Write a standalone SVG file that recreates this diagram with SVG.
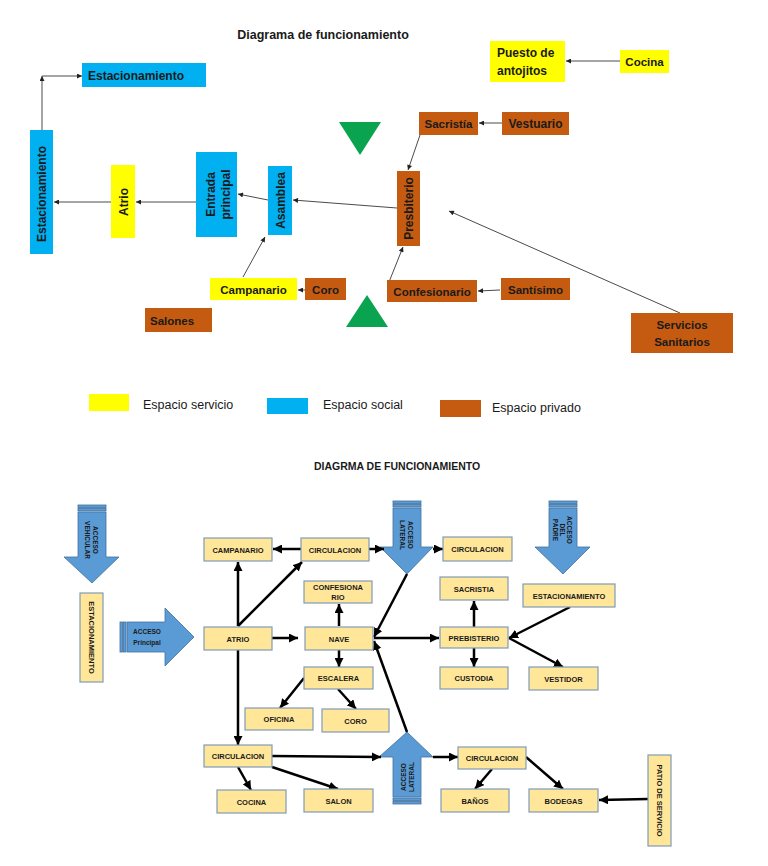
<svg xmlns="http://www.w3.org/2000/svg" width="768" height="866" viewBox="0 0 768 866">
<defs>
<style>
.t{font-family:"Liberation Sans",Arial,sans-serif;fill:#1a1a1a}
.tb{font-family:"Liberation Sans",Arial,sans-serif;font-weight:bold;fill:#1a1a1a}
.blue{fill:#00b0f0}
.yel{fill:#ffff00}
.brn{fill:#c55a11}
.grn{fill:#0aa34f}
.c1{stroke:#4a4a4a;stroke-width:1;fill:none;marker-end:url(#as)}
.c2{stroke:#000;stroke-width:2.5;fill:none;marker-end:url(#ab)}
.bx{fill:#ffe699;stroke:#7f9cb8;stroke-width:1.2}
.bt{font-family:"Liberation Sans",Arial,sans-serif;font-weight:bold;font-size:7.5px;fill:#1a1a1a;text-anchor:middle}
.ar{fill:#5b9bd5;stroke:#41719c;stroke-width:0.8}
.at{font-family:"Liberation Sans",Arial,sans-serif;font-weight:bold;font-size:6.5px;fill:#1a1a1a;text-anchor:middle}
</style>
<marker id="as" viewBox="0 0 10 10" refX="10" refY="5" markerWidth="6" markerHeight="5" markerUnits="userSpaceOnUse" orient="auto"><path d="M0,0 L10,5 L0,10 z" fill="#222"/></marker>
<marker id="ab" viewBox="0 0 10 10" refX="10" refY="5" markerWidth="9" markerHeight="9" markerUnits="userSpaceOnUse" orient="auto"><path d="M0,0 L10,5 L0,10 z" fill="#000"/></marker>
</defs>
<rect width="768" height="866" fill="#fff"/>

<!-- ===== TOP DIAGRAM ===== -->
<text class="tb" x="323" y="39" font-size="12.5" text-anchor="middle">Diagrama de funcionamiento</text>

<g id="top-connectors">
<line class="c1" x1="42" y1="130" x2="42" y2="76"/>
<line class="c1" x1="42" y1="76" x2="82" y2="76"/>
<line class="c1" x1="111" y1="202" x2="54" y2="202"/>
<line class="c1" x1="196" y1="202" x2="136" y2="202"/>
<line class="c1" x1="268" y1="200" x2="238" y2="194"/>
<line class="c1" x1="397" y1="208" x2="293" y2="200"/>
<line class="c1" x1="420" y1="135" x2="408" y2="170"/>
<line class="c1" x1="502" y1="123" x2="479" y2="123"/>
<line class="c1" x1="620" y1="61" x2="566" y2="61"/>
<line class="c1" x1="680" y1="313" x2="449" y2="211"/>
<line class="c1" x1="243" y1="277" x2="265" y2="237"/>
<line class="c1" x1="305" y1="290" x2="298" y2="290"/>
<line class="c1" x1="389" y1="282" x2="403" y2="247"/>
<line class="c1" x1="500" y1="290" x2="478" y2="291"/>
</g>

<g id="t-estacionamiento-h"><rect class="blue" x="82" y="63" width="124" height="24"/><text class="tb" x="88" y="80" font-size="12">Estacionamiento</text></g>
<g id="t-estacionamiento-v"><rect class="blue" x="30" y="130" width="23" height="124"/><text class="tb" font-size="12" text-anchor="middle" transform="translate(46,194) rotate(-90)">Estacionamiento</text></g>
<g id="t-atrio"><rect class="yel" x="111" y="165" width="24" height="73"/><text class="tb" font-size="12" text-anchor="middle" transform="translate(127.5,202) rotate(-90)">Atrio</text></g>
<g id="t-entrada"><rect class="blue" x="196" y="152" width="41" height="85"/><text class="tb" font-size="12" text-anchor="middle" transform="translate(216.5,194.5) rotate(-90)"><tspan x="0" y="-2">Entrada</tspan><tspan x="0" y="13">principal</tspan></text></g>
<g id="t-asamblea"><rect class="blue" x="268" y="166" width="24" height="69"/><text class="tb" font-size="12" text-anchor="middle" transform="translate(284.5,200.5) rotate(-90)">Asamblea</text></g>
<g id="t-presbiterio"><rect class="brn" x="397" y="171" width="23" height="75"/><text class="tb" font-size="12" text-anchor="middle" transform="translate(413,208.5) rotate(-90)">Presbiterio</text></g>
<g id="t-sacristia"><rect class="brn" x="419" y="112" width="59" height="23"/><text class="tb" x="448.5" y="128" font-size="11.5" text-anchor="middle">Sacristía</text></g>
<g id="t-vestuario"><rect class="brn" x="502" y="112" width="67" height="23"/><text class="tb" x="535.5" y="128" font-size="12" text-anchor="middle">Vestuario</text></g>
<g id="t-puesto"><rect class="yel" x="490" y="41" width="75" height="41"/><text class="tb" font-size="12"><tspan x="497" y="57">Puesto de</tspan><tspan x="497" y="75">antojitos</tspan></text></g>
<g id="t-cocina"><rect class="yel" x="620" y="50" width="49" height="23"/><text class="tb" x="644.5" y="66" font-size="11.5" text-anchor="middle">Cocina</text></g>
<g id="t-campanario"><rect class="yel" x="210" y="278" width="87" height="22"/><text class="tb" x="253.5" y="294" font-size="11.5" text-anchor="middle">Campanario</text></g>
<g id="t-coro"><rect class="brn" x="305" y="278" width="41" height="22"/><text class="tb" x="325.5" y="294" font-size="11.5" text-anchor="middle">Coro</text></g>
<g id="t-confesionario"><rect class="brn" x="387" y="280" width="90" height="22"/><text class="tb" x="432" y="296" font-size="11.5" text-anchor="middle">Confesionario</text></g>
<g id="t-santisimo"><rect class="brn" x="501" y="278" width="69" height="22"/><text class="tb" x="535.5" y="294" font-size="11.5" text-anchor="middle">Santísimo</text></g>
<g id="t-salones"><rect class="brn" x="145" y="308" width="67" height="24"/><text class="tb" x="150" y="325" font-size="11.5">Salones</text></g>
<g id="t-servicios"><rect class="brn" x="631" y="313" width="102" height="40"/><text class="tb" font-size="11.5" text-anchor="middle"><tspan x="682" y="329">Servicios</tspan><tspan x="682" y="346">Sanitarios</tspan></text></g>
<g id="t-tri-down"><polygon class="grn" points="339,122 381,122 360,155"/></g>
<g id="t-tri-up"><polygon class="grn" points="367,295 346,327 388,327"/></g>

<g id="legend">
<rect class="yel" x="89" y="394" width="40" height="17"/><text class="t" x="143" y="409" font-size="12.5">Espacio servicio</text>
<rect class="blue" x="267" y="398" width="41" height="16"/><text class="t" x="323" y="409" font-size="12.5">Espacio social</text>
<rect class="brn" x="440" y="400" width="41" height="17"/><text class="t" x="492" y="412" font-size="12.5">Espacio privado</text>
</g>

<!-- ===== BOTTOM DIAGRAM ===== -->
<text class="tb" x="397" y="470" font-size="10.5" text-anchor="middle">DIAGRMA DE FUNCIONAMIENTO</text>

<g id="access-arrows">
<g id="a-vehicular">
<rect class="ar" x="78" y="505" width="28" height="2.5"/><rect class="ar" x="78" y="508.5" width="28" height="2.5"/>
<polygon class="ar" points="78,512 106,512 106,557 119,557 92,583 64,557 78,557"/>
<text class="at" transform="translate(92,540) rotate(90)"><tspan x="0" y="-1">ACCESO</tspan><tspan x="0" y="7">VEHICULAR</tspan></text>
</g>
<g id="a-lateral-top">
<rect class="ar" x="393" y="501" width="28" height="2.5"/><rect class="ar" x="393" y="504.5" width="28" height="2.5"/>
<polygon class="ar" points="393,508 421,508 421,547 433,547 407,574 380,547 393,547"/>
<text class="at" transform="translate(407,535) rotate(90)"><tspan x="0" y="-1">ACCESO</tspan><tspan x="0" y="7">LATERAL</tspan></text>
</g>
<g id="a-padre">
<rect class="ar" x="549" y="501" width="28" height="2.5"/><rect class="ar" x="549" y="504.5" width="28" height="2.5"/>
<polygon class="ar" points="549,508 577,508 577,547 590,547 563,574 535,547 549,547"/>
<text class="at" transform="translate(563,530) rotate(90)"><tspan x="0" y="-4">ACCESO</tspan><tspan x="0" y="3">DEL</tspan><tspan x="0" y="10">PADRE</tspan></text>
</g>
<g id="a-principal">
<rect class="ar" x="120" y="622" width="2.5" height="30"/><rect class="ar" x="123.5" y="622" width="2.5" height="30"/>
<polygon class="ar" points="127,622 165,622 165,608 194,637 165,666 165,652 127,652"/>
<text class="at" font-size="7"><tspan x="147" y="634">ACCESO</tspan><tspan x="147" y="645">Principal</tspan></text>
</g>
<g id="a-lateral-bottom">
<rect class="ar" x="393" y="798" width="28" height="2.5"/><rect class="ar" x="393" y="801.5" width="28" height="2.5"/>
<polygon class="ar" points="393,797 421,797 421,757 433,757 407,732 379,757 393,757"/>
<text class="at" transform="translate(407,777) rotate(-90)"><tspan x="0" y="-1">ACCESO</tspan><tspan x="0" y="7">LATERAL</tspan></text>
</g>
</g>

<g id="bottom-connectors">
<line class="c2" x1="301" y1="549" x2="273" y2="549"/>
<line class="c2" x1="369" y1="549" x2="384" y2="549"/>
<line class="c2" x1="433" y1="549" x2="443" y2="549"/>
<line class="c2" x1="238" y1="626" x2="238" y2="562"/>
<line class="c2" x1="238" y1="626" x2="302" y2="562"/>
<line class="c2" x1="272" y1="638" x2="298" y2="638"/>
<line class="c2" x1="339" y1="626" x2="339" y2="604"/>
<line class="c2" x1="407" y1="574" x2="374" y2="637"/>
<line class="c2" x1="374" y1="638" x2="439" y2="638"/>
<line class="c2" x1="474" y1="627" x2="474" y2="601"/>
<line class="c2" x1="474" y1="648" x2="474" y2="667"/>
<line class="c2" x1="570" y1="607" x2="509" y2="638"/>
<line class="c2" x1="509" y1="638" x2="563" y2="667"/>
<line class="c2" x1="339" y1="650" x2="339" y2="667"/>
<line class="c2" x1="304" y1="678" x2="280" y2="708"/>
<line class="c2" x1="338" y1="689" x2="356" y2="709"/>
<line class="c2" x1="238" y1="650" x2="238" y2="745"/>
<line class="c2" x1="272" y1="756" x2="381" y2="757"/>
<line class="c2" x1="407" y1="732" x2="374" y2="641"/>
<line class="c2" x1="433" y1="757" x2="458" y2="757"/>
<line class="c2" x1="238" y1="767" x2="251" y2="790"/>
<line class="c2" x1="272" y1="767" x2="338" y2="789"/>
<line class="c2" x1="492" y1="769" x2="475" y2="789"/>
<line class="c2" x1="526" y1="757" x2="563" y2="789"/>
<line class="c2" x1="648" y1="799" x2="599" y2="800"/>
</g>

<g id="b-campanario"><rect class="bx" x="204" y="538" width="68" height="23"/><text class="bt" x="238" y="552.5">CAMPANARIO</text></g>
<g id="b-circ1"><rect class="bx" x="301" y="538" width="68" height="23"/><text class="bt" x="335" y="552.5">CIRCULACION</text></g>
<g id="b-circ2"><rect class="bx" x="443" y="537" width="69" height="24"/><text class="bt" x="477.5" y="552">CIRCULACION</text></g>
<g id="b-confesionario"><rect class="bx" x="304" y="581" width="68" height="22"/><text class="bt"><tspan x="338" y="590">CONFESIONA</tspan><tspan x="338" y="600">RIO</tspan></text></g>
<g id="b-sacristia"><rect class="bx" x="440" y="577" width="68" height="23"/><text class="bt" x="474" y="591.5">SACRISTIA</text></g>
<g id="b-estacionamiento2"><rect class="bx" x="523" y="584" width="92" height="23"/><text class="bt" x="569" y="598.5">ESTACIONAMIENTO</text></g>
<g id="b-atrio"><rect class="bx" x="204" y="627" width="68" height="23"/><text class="bt" x="238" y="641.5">ATRIO</text></g>
<g id="b-nave"><rect class="bx" x="305" y="627" width="68" height="23"/><text class="bt" x="339" y="641.5">NAVE</text></g>
<g id="b-prebisterio"><rect class="bx" x="440" y="627" width="68" height="21"/><text class="bt" x="474" y="640.5">PREBISTERIO</text></g>
<g id="b-custodia"><rect class="bx" x="440" y="667" width="68" height="22"/><text class="bt" x="474" y="681">CUSTODIA</text></g>
<g id="b-vestidor"><rect class="bx" x="529" y="667" width="69" height="23"/><text class="bt" x="563.5" y="681.5">VESTIDOR</text></g>
<g id="b-escalera"><rect class="bx" x="304" y="667" width="69" height="22"/><text class="bt" x="338.5" y="681">ESCALERA</text></g>
<g id="b-oficina"><rect class="bx" x="245" y="708" width="68" height="22"/><text class="bt" x="279" y="722">OFICINA</text></g>
<g id="b-coro"><rect class="bx" x="322" y="709" width="67" height="23"/><text class="bt" x="355.5" y="723.5">CORO</text></g>
<g id="b-circ3"><rect class="bx" x="204" y="745" width="68" height="22"/><text class="bt" x="238" y="759">CIRCULACION</text></g>
<g id="b-cocina"><rect class="bx" x="217" y="790" width="69" height="23"/><text class="bt" x="251.5" y="804.5">COCINA</text></g>
<g id="b-salon"><rect class="bx" x="304" y="789" width="69" height="23"/><text class="bt" x="338.5" y="803.5">SALON</text></g>
<g id="b-circ4"><rect class="bx" x="458" y="747" width="68" height="22"/><text class="bt" x="492" y="761">CIRCULACION</text></g>
<g id="b-banos"><rect class="bx" x="441" y="789" width="68" height="23"/><text class="bt" x="475" y="803.5">BAÑOS</text></g>
<g id="b-bodegas"><rect class="bx" x="529" y="789" width="69" height="23"/><text class="bt" x="563.5" y="803.5">BODEGAS</text></g>
<g id="b-estacionamiento1"><rect class="bx" x="80" y="593" width="23" height="89"/><text class="bt" font-size="8" transform="translate(91.5,637.5) rotate(90)" y="3">ESTACIONAMIENTO</text></g>
<g id="b-patio"><rect class="bx" x="648" y="755" width="23" height="91"/><text class="bt" font-size="8" transform="translate(659.5,800.5) rotate(90)" y="3">PATIO DE SERVICIO</text></g>
</svg>
